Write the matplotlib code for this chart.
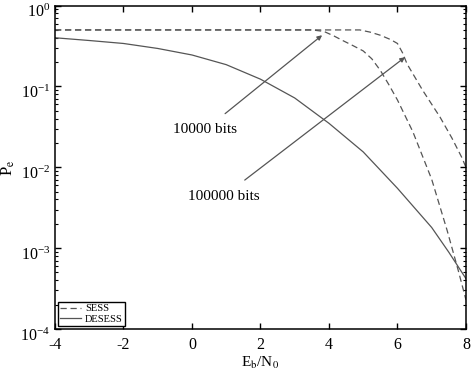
import matplotlib
matplotlib.use("Agg")
import matplotlib.pyplot as plt
from matplotlib.ticker import LogLocator, NullLocator
from matplotlib.transforms import ScaledTranslation

plt.rcParams['font.family'] = ['Liberation Serif', 'DejaVu Serif']
plt.rcParams['mathtext.fontset'] = 'stix'
plt.rcParams['axes.unicode_minus'] = False

# === data ===
desess_x = [-4, -3, -2, -1, 0, 1, 2, 3, 4, 5, 6, 7, 7.5, 8]
desess_pe = [0.40, 0.37, 0.34, 0.295, 0.245, 0.186, 0.123, 0.072, 0.035,
             0.0155, 0.0055, 0.0018, 8.9e-4, 4.2e-4]

sess_1e4_x = [-4, 0, 3.5, 3.85, 4.15, 4.4, 4.7, 5.0, 5.25, 5.5, 5.75, 6.0,
              6.45, 7.0, 7.45, 7.77, 8.0]
sess_1e4_pe = [0.50, 0.50, 0.50, 0.48, 0.42, 0.37, 0.32, 0.275, 0.22, 0.158,
               0.105, 0.068, 0.0275, 0.0071, 0.00166, 5.4e-4, 2.3e-4]

sess_1e5_x = [-4, 4.9, 5.2, 5.5, 5.8, 6.0, 6.15, 6.28, 6.74, 7.24, 7.59,
              7.88, 8.0]
sess_1e5_pe = [0.50, 0.50, 0.47, 0.43, 0.38, 0.34, 0.26, 0.19, 0.089, 0.042,
               0.023, 0.0132, 0.010]

x_ticks = [-4, -2, 0, 2, 4, 6, 8]

fig = plt.figure(figsize=(4.74, 3.73), dpi=100)
ax = fig.add_axes([0.116, 0.118, 0.867, 0.867])

line_col = "#555555"
ax.plot(sess_1e4_x, sess_1e4_pe, "--", color=line_col, lw=0.9, dashes=(5, 3),
        label="SESS")
ax.plot(sess_1e5_x, sess_1e5_pe, "--", color=line_col, lw=0.9, dashes=(5, 3))
ax.plot(desess_x, desess_pe, "-", color=line_col, lw=0.9, label="DESESS")

ax.set_yscale("log")
ax.set_xlim(-4, 8)
ax.set_ylim(1e-4, 1)
ax.set_xticks(x_ticks)
ax.xaxis.set_minor_locator(NullLocator())
ax.yaxis.set_minor_locator(LogLocator(base=10, subs=range(2, 10)))
ax.tick_params(which="both", direction="in", top=True, right=True, labelsize=11.5)
ax.tick_params(which="major", length=4, width=1)
ax.tick_params(which="minor", length=2, width=0.8)
ax.tick_params(axis="x", pad=6)
for s in ax.spines.values():
    s.set_linewidth(1.1)

# y tick labels sit a little below their ticks in the reference
shift = ScaledTranslation(0, -5 / 100, fig.dpi_scale_trans)
for lab in ax.get_yticklabels():
    lab.set_transform(lab.get_transform() + shift)

ax.set_xlabel(r"E$_\mathrm{b}$/N$_\mathrm{0}$", fontsize=11, labelpad=1)
ax.set_ylabel(r"P$_\mathrm{e}$", fontsize=12, labelpad=2)

# annotations
ax.annotate("10000 bits", xy=(3.8, 0.43), xytext=(0.38, 0.029),
            ha="center", va="center", fontsize=11,
            arrowprops=dict(arrowstyle="-|>", color=line_col, lw=0.9,
                            mutation_scale=7, shrinkA=8, shrinkB=0))
ax.annotate("100000 bits", xy=(6.22, 0.23), xytext=(0.93, 0.0044),
            ha="center", va="center", fontsize=11,
            arrowprops=dict(arrowstyle="-|>", color=line_col, lw=0.9,
                            mutation_scale=7, shrinkA=8, shrinkB=0))

leg = ax.legend(loc="lower left", fontsize=7.5, fancybox=False, framealpha=1,
                edgecolor="black", borderpad=0.2, labelspacing=0.1,
                handlelength=2.0, handletextpad=0.4, borderaxespad=0.3)
leg.get_frame().set_linewidth(1.0)

fig.savefig("out.png", dpi=100)
